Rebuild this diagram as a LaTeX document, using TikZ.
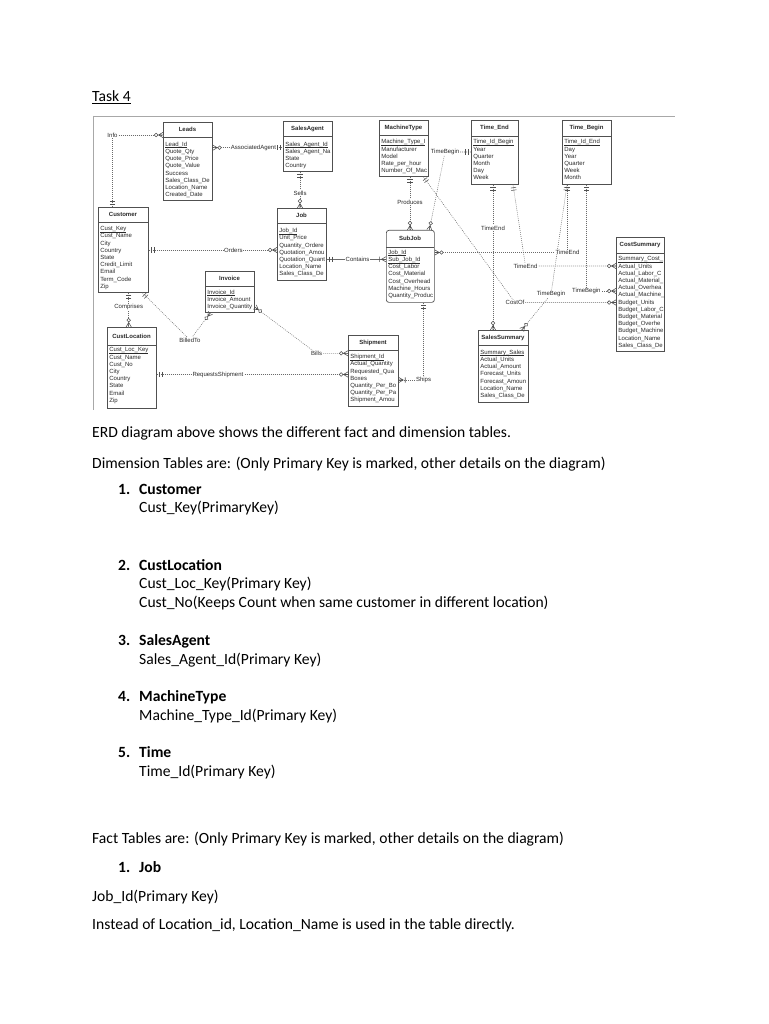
\documentclass[tikz,border=0pt]{standalone}
\usepackage{fontspec}
\setmainfont{Carlito}
\newfontfamily\erd{Liberation Sans}
\usetikzlibrary{decorations.markings}
\definecolor{bc}{HTML}{505050}
\definecolor{lc}{HTML}{6A6A6A}
\definecolor{mc}{HTML}{505050}
\definecolor{tc}{HTML}{2A2A2A}
\definecolor{fc}{HTML}{A8A8A8}
\newcommand\keyattr[1]{\underline{\vphantom{L}\smash{#1}}}
\tikzset{
  ebox/.style={draw=bc, line width=0.7pt, fill=white, inner sep=0pt},
  sepline/.style={draw=bc, line width=0.6pt},
  etitle/.style={font=\erd\bfseries\fontsize{6}{7}\selectfont, text=tc, inner sep=0pt},
  eattr/.style={font=\erd\fontsize{6}{7.2}\selectfont, text=tc, inner sep=0pt, align=left, anchor=north west},
  rel/.style={draw=lc, line width=0.55pt, dash pattern=on 0.8pt off 1.2pt},
  relsolid/.style={draw=lc, line width=0.55pt},
  lbl/.style={font=\erd\fontsize{6}{7}\selectfont, text=tc, fill=white, inner sep=0.7pt},
  mk/.style={draw=mc, line width=0.55pt, solid},
  st1/.style={postaction={decorate,decoration={markings,
     mark=at position 3pt with {\draw[mk] (0,-2.6)--(0,2.6);},
     mark=at position 5.5pt with {\draw[mk] (0,-2.6)--(0,2.6);}}}},
  en1/.style={postaction={decorate,decoration={markings,
     mark=at position -3pt with {\draw[mk] (0,-2.6)--(0,2.6);},
     mark=at position -5.5pt with {\draw[mk] (0,-2.6)--(0,2.6);}}}},
  stN0/.style={postaction={decorate,decoration={markings,
     mark=at position 0.05pt with {\draw[mk] (0,2.6)--(4.5,0)--(0,-2.6) (0,0)--(4.5,0); \draw[mk,fill=white] (6.8,0) circle (1.8);}}}},
  enN0/.style={postaction={decorate,decoration={markings,
     mark=at position -0.05pt with {\draw[mk] (0,2.6)--(-4.5,0)--(0,-2.6) (0,0)--(-4.5,0); \draw[mk,fill=white] (-6.8,0) circle (1.8);}}}},
  enN1/.style={postaction={decorate,decoration={markings,
     mark=at position -0.05pt with {\draw[mk] (0,2.6)--(-4.5,0)--(0,-2.6) (0,0)--(-4.5,0) (-6.5,-2.6)--(-6.5,2.6);}}}},
  body/.style={anchor=base west, inner sep=0pt, font=\fontsize{15.6}{18}\selectfont},
  bodyb/.style={body, font=\bfseries\fontsize{15.6}{18}\selectfont},
  framel/.style={draw=fc, line width=0.9pt}
}
\newcommand\entity[9]{%
  \node[ebox, anchor=north west, minimum width={(#4-#2)*1pt}, minimum height={(#5-#3)*1pt}] (#1) at (#2,#3) {};
  \draw[sepline] (#2,#6) -- (#4,#6);
  \node[etitle] (#1t) at ({(#2+#4)/2},{(#3+#6)/2}) {#7};
  \node[eattr] (#1a) at (#2+2.2,#8-2.4) {#9};
}
\begin{document}
\begin{tikzpicture}[x=1pt,y=-1pt]
\useasboundingbox (0,0) rectangle (768,1024);
\fill[white] (0,0) rectangle (768,1024);

% frame of the diagram image
\draw[framel] (93,116) -- (675,116);
\draw[framel] (93,116) -- (93,410);

% ---------- entities ----------
\entity{leads}{163}{122}{212}{200}{137}{Leads}{144.3}{\keyattr{Lead\_Id}\\Quote\_Qty\\Quote\_Price\\Quote\_Value\\Success\\Sales\_Class\_De\\Location\_Name\\Created\_Date}
\entity{sales}{283}{121}{332}{171}{136}{SalesAgent}{144.3}{\keyattr{Sales\_Agent\_Id}\\Sales\_Agent\_Na\\State\\Country}
\entity{mach}{379}{120}{428}{176}{135}{MachineType}{142}{\keyattr{Machine\_Type\_I}\\Manufacturer\\Model\\Rate\_per\_hour\\Number\_Of\_Mac}
\entity{tend}{471}{120}{518}{184}{136}{Time\_End}{142}{\keyattr{Time\_Id\_Begin}\\Year\\Quarter\\Month\\Day\\Week}
\entity{tbeg}{562}{120}{611}{184}{136}{Time\_Begin}{142}{\keyattr{Time\_Id\_End}\\Day\\Year\\Quarter\\Week\\Month}
\entity{cust}{98}{207}{148}{292}{222}{Customer}{228.7}{\keyattr{Cust\_Key}\\Cust\_Name\\City\\Country\\State\\Credit\_Limit\\Email\\Term\_Code\\Zip}
\entity{job}{277}{208}{326}{280}{223}{Job}{230.7}{\keyattr{Job\_Id}\\Unit\_Price\\Quantity\_Ordere\\Quotation\_Amou\\Quotation\_Quant\\Location\_Name\\Sales\_Class\_De}
\begin{scope}[ebox/.append style={rounded corners=2.5pt}]
\entity{subjob}{386}{230}{434}{302}{247}{SubJob}{252.3}{\keyattr{Job\_Id}\\\keyattr{Sub\_Job\_Id}\\Cost\_Labor\\Cost\_Material\\Cost\_Overhead\\Machine\_Hours\\Quantity\_Produc}
\end{scope}
\entity{inv}{205}{271}{254}{312}{286}{Invoice}{292.3}{\keyattr{Invoice\_Id}\\Invoice\_Amount\\Invoice\_Quantity}
\entity{custloc}{107}{327}{156}{408}{345}{CustLocation}{350}{\keyattr{Cust\_Loc\_Key}\\Cust\_Name\\Cust\_No\\City\\Country\\State\\Email\\Zip}
\entity{ship}{348}{335}{398}{406}{350}{Shipment}{356.7}{\keyattr{Shipment\_Id}\\Actual\_Quantity\\Requested\_Qua\\Boxes\\Quantity\_Per\_Bo\\Quantity\_Per\_Pa\\Shipment\_Amou}
\entity{ssum}{478}{330}{528}{402}{345}{SalesSummary}{352.3}{\keyattr{Summary\_Sales}\\Actual\_Units\\Actual\_Amount\\Forecast\_Units\\Forecast\_Amoun\\Location\_Name\\Sales\_Class\_De}
\entity{costs}{616}{237}{664}{351}{253}{CostSummary}{259}{\keyattr{Summary\_Cost\_}\\Actual\_Units\\Actual\_Labor\_C\\Actual\_Material\_\\Actual\_Overhea\\Actual\_Machine\_\\Budget\_Units\\Budget\_Labor\_C\\Budget\_Material\\Budget\_Overhe\\Budget\_Machine\\Location\_Name\\Sales\_Class\_De}

% ---------- relationships ----------
\draw[rel,st1,enN0] (112.5,0 |- cust.north) -- (112.5,135) node[lbl] (lInfo) {Info} -- (leads.west |- 0,135);
\draw[rel,stN0,en1] (leads.east |- 0,147.7) -- node[lbl,pos=0.58] (lAA) {AssociatedAgent} (sales.west |- 0,147.7);
\draw[rel,st1,enN0] (300,0 |- sales.south) -- node[lbl,pos=0.59] (lSells) {Sells} (300,0 |- job.north);
\draw[rel,st1,enN0] (cust.east |- 0,250) -- node[lbl,pos=0.66] (lOrders) {Orders} (job.west |- 0,250);
\draw[relsolid,st1,enN1] (job.east |- 0,259.3) -- node[lbl,pos=0.52] (lContains) {Contains} (subjob.west |- 0,259.3);
\draw[rel,st1,enN0] (410,0 |- mach.south) -- node[lbl,pos=0.48] (lProduces) {Produces} (410,0 |- subjob.north);
\draw[rel,st1,enN0] (423.3,0 |- mach.south) -- (515,302.5) node[lbl] (lCostOf) {CostOf} -- (costs.west |- 0,302.5);
\draw[rel,st1,enN0] (tend.west |- 0,152) -- (445,152) node[lbl] (lTB1) {TimeBegin} -- (429.3,0 |- subjob.north);
\draw[rel,st1,enN0] (567.5,0 |- tbeg.south) -- (567.5,252.5) node[lbl] (lTE1) {TimeEnd} -- (subjob.east |- 0,252.5);
\draw[rel,st1,enN0] (493,0 |- tend.south) -- node[lbl,pos=0.3] (lTE2) {TimeEnd} (493,0 |- ssum.north);
\draw[rel,st1,enN0] (513,0 |- tend.south) -- (525.5,266) node[lbl] (lTE3) {TimeEnd} -- (costs.west |- 0,266);
\draw[rel,st1,enN0] (567,0 |- tbeg.south) -- (551,294.3) node[lbl] (lTB2) {TimeBegin} -- (521.7,0 |- ssum.north);
\draw[rel,st1,enN0] (586.3,0 |- tbeg.south) -- (586.3,291) node[lbl] (lTB3) {TimeBegin} -- (costs.west |- 0,291);
\draw[rel,st1,enN1] (423.5,0 |- subjob.south) -- (423.5,380) node[lbl] (lShips) {Ships} -- (ship.east |- 0,380);
\draw[rel,stN0,enN0] (inv.east |- 0,307) -- (316.5,353.3) node[lbl] (lBills) {Bills} -- (ship.west |- 0,353.3);
\draw[rel,st1,enN0] (142.3,0 |- cust.south) -- (190,340) node[lbl] (lBilledTo) {BilledTo} -- (210.5,0 |- inv.south);
\draw[rel,st1,enN0] (128.7,0 |- cust.south) -- node[lbl,pos=0.42] (lComprises) {Comprises} (128.7,0 |- custloc.north);
\draw[rel,st1,enN0] (custloc.east |- 0,374.5) -- node[lbl,pos=0.32] (lReq) {RequestsShipment} (ship.west |- 0,374.5);

% ---------- document text ----------
\node[body] (t0) at (92,102) {\underline{Task 4}};
\node[body] (t1) at (92,437) {ERD diagram above shows the different fact and dimension tables.};
\node[body] (t2) at (92,468) {Dimension Tables are: (Only Primary Key is marked, other details on the diagram)};
\node[bodyb] (n1) at (118,494) {1.};
\node[bodyb] (h1) at (139,494) {Customer};
\node[body] (d1) at (139,512) {Cust\_Key(PrimaryKey)};
\node[bodyb] (n2) at (118,570) {2.};
\node[bodyb] (h2) at (139,570) {CustLocation};
\node[body] (d2a) at (139,588) {Cust\_Loc\_Key(Primary Key)};
\node[body] (d2b) at (139,607) {Cust\_No(Keeps Count when same customer in different location)};
\node[bodyb] (n3) at (118,645) {3.};
\node[bodyb] (h3) at (139,645) {SalesAgent};
\node[body] (d3) at (139,664) {Sales\_Agent\_Id(Primary Key)};
\node[bodyb] (n4) at (118,701) {4.};
\node[bodyb] (h4) at (139,701) {MachineType};
\node[body] (d4) at (139,720) {Machine\_Type\_Id(Primary Key)};
\node[bodyb] (n5) at (118,757) {5.};
\node[bodyb] (h5) at (139,757) {Time};
\node[body] (d5) at (139,776) {Time\_Id(Primary Key)};
\node[body] (t3) at (92,843) {Fact Tables are: (Only Primary Key is marked, other details on the diagram)};
\node[bodyb] (m1) at (118,872) {1.};
\node[bodyb] (g1) at (139,872) {Job};
\node[body] (e1) at (92,901) {Job\_Id(Primary Key)};
\node[body] (e2) at (92,929) {Instead of Location\_id, Location\_Name is used in the table directly.};
\end{tikzpicture}
\end{document}
